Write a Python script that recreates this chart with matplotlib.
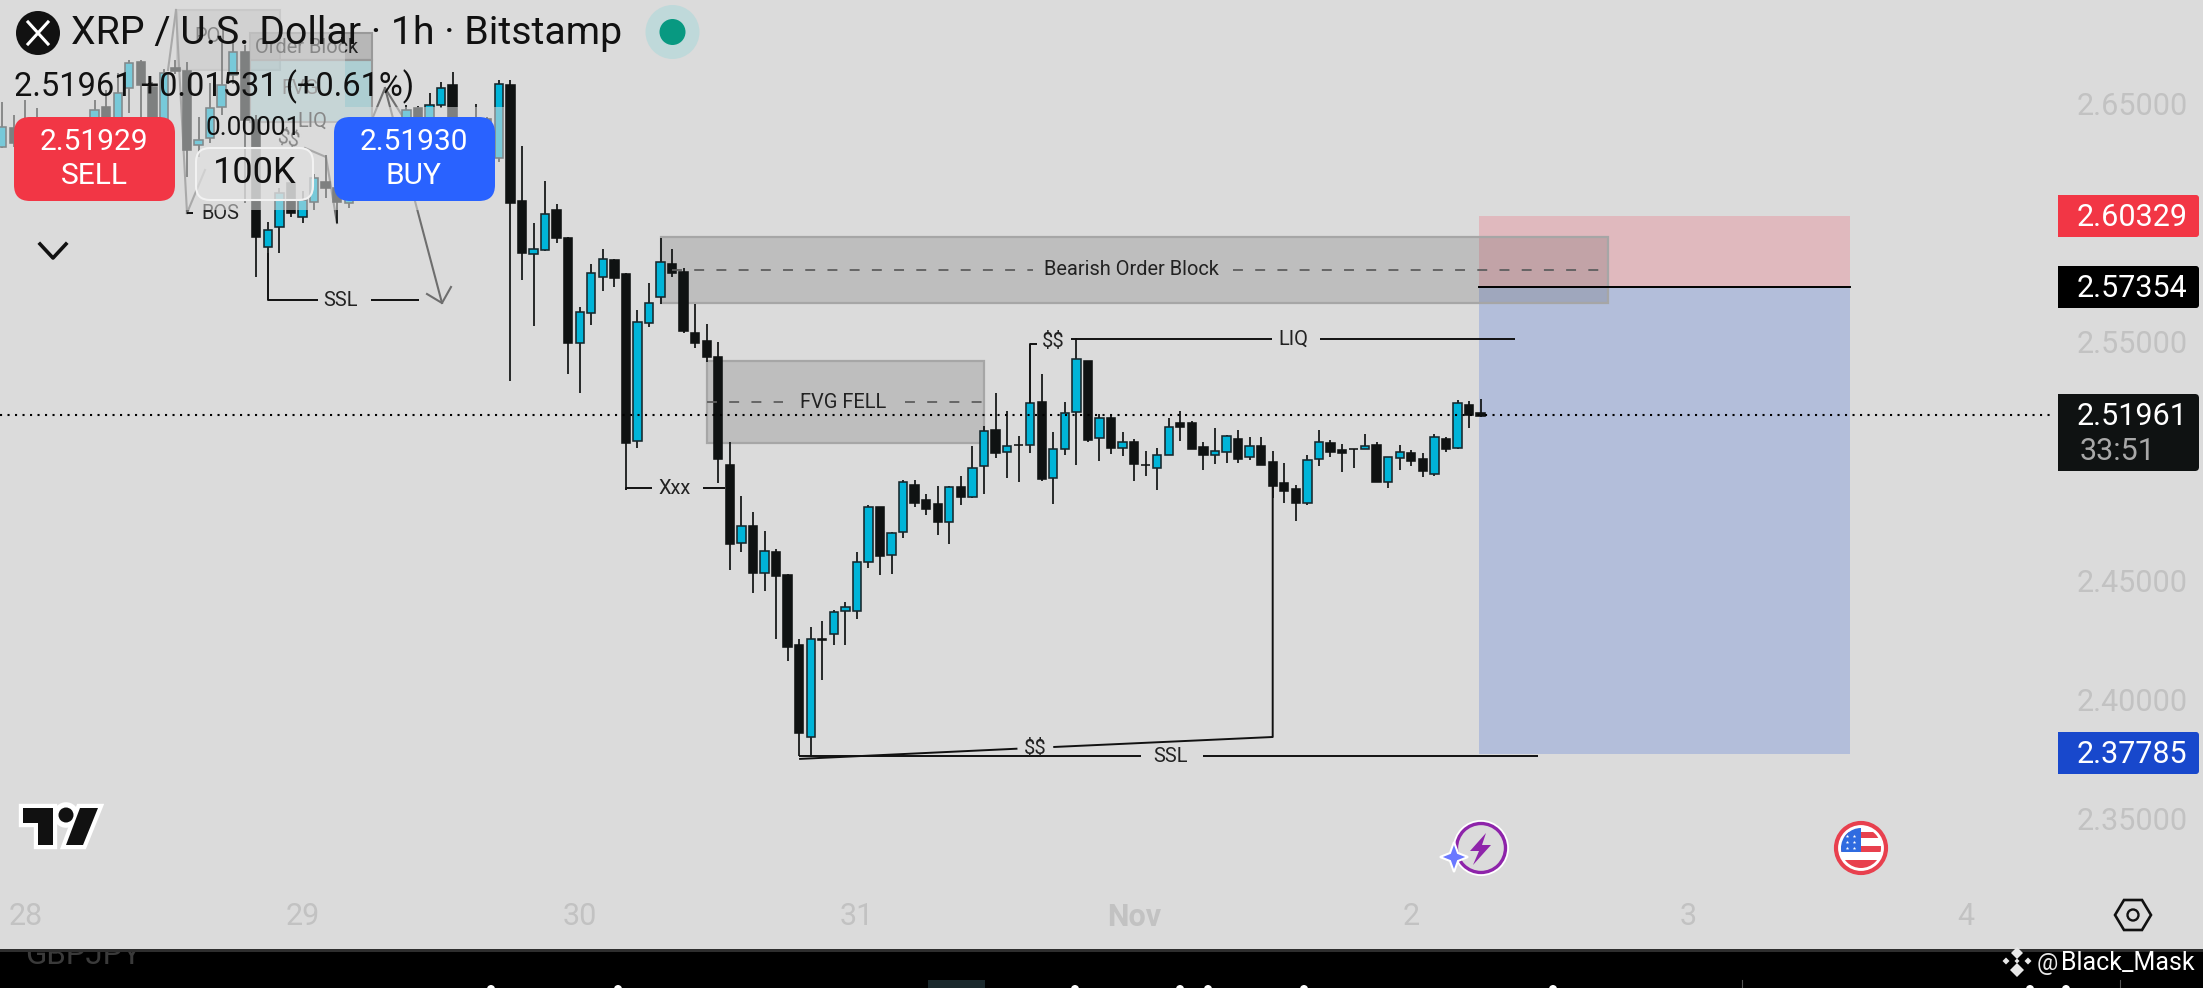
#!/usr/bin/env python3
# XRP / USD 1h chart screenshot rebuilt with matplotlib
import numpy as np
import matplotlib
matplotlib.use("Agg")
import matplotlib.pyplot as plt
from matplotlib.patches import Rectangle, FancyBboxPatch, Circle, Polygon

plt.rcParams["font.family"] = ["Roboto", "DejaVu Sans"]
plt.rcParams["text.parse_math"] = False

W, H = 2203, 988
BG = "#DBDBDB"
CYAN = "#00B4D8"
DARK = "#0F1212"
AXIS_GREY = "#C2C2C2"

# candles, one per hour, first one is 22:00 the day before the 28th
first_hour = -2
opens = [
    2.6325, 2.6402, 2.6340, 2.6410, 2.6380, 2.6350, 2.6400, 2.6370, 2.6400, 2.6490,
    2.6420, 2.6570, 2.6682, 2.6577, 2.6430, 2.6654, 2.6643, 2.6332, 2.6360, 2.6493,
    2.6626, 2.6724, 2.6437, 2.5906, 2.5990, 2.6171, 2.6032, 2.6095, 2.6178, 2.6150,
    2.6088, 2.6110, 2.6200, 2.6280, 2.6380, 2.6420, 2.6486, 2.6440, 2.6500, 2.6584,
    2.6445, 2.6420, 2.6440, 2.6279, 2.6584, 2.6097, 2.5874, 2.5892, 2.6060, 2.5944,
    2.5500, 2.5626, 2.5780, 2.5850, 2.5791, 2.5091, 2.5584, 2.5696, 2.5833, 2.5800,
    2.5545, 2.5510, 2.5444, 2.4990, 2.4664, 2.4734, 2.4536, 2.4625, 2.4529, 2.4235,
    2.3848, 2.4261, 2.4280, 2.4376, 2.4376, 2.4584, 2.4812, 2.4611, 2.4708, 2.4906,
    2.4843, 2.4826, 2.4749, 2.4896, 2.4857, 2.4984, 2.5137, 2.5043, 2.5074, 2.5074,
    2.5253, 2.4934, 2.5056, 2.5211, 2.5426, 2.5102, 2.5187, 2.5060, 2.5086, 2.4990,
    2.4979, 2.5033, 2.5165, 2.5165, 2.5066, 2.5031, 2.5046, 2.5099, 2.5025, 2.5070,
    2.5003, 2.4913, 2.4889, 2.4832, 2.5014, 2.5081, 2.5053, 2.5056, 2.5056, 2.5073,
    2.4917, 2.5018, 2.5042, 2.5014, 2.4954, 2.5099, 2.5060, 2.5242, 2.5209,
]
highs = [
    2.6514, 2.6458, 2.6521, 2.6486, 2.6451, 2.6430, 2.6440, 2.6445, 2.6521, 2.6563,
    2.6633, 2.6689, 2.6689, 2.6598, 2.6650, 2.6690, 2.6680, 2.6451, 2.6591, 2.6773,
    2.6773, 2.6750, 2.6460, 2.6010, 2.6150, 2.6200, 2.6140, 2.6210, 2.6290, 2.6170,
    2.6150, 2.6230, 2.6300, 2.6420, 2.6450, 2.6500, 2.6495, 2.6549, 2.6598, 2.6640,
    2.6450, 2.6504, 2.6450, 2.6605, 2.6605, 2.6328, 2.6004, 2.6181, 2.6083, 2.5946,
    2.5653, 2.5833, 2.5896, 2.5854, 2.5795, 2.5640, 2.5752, 2.5943, 2.5896, 2.5815,
    2.5665, 2.5581, 2.5506, 2.5088, 2.4860, 2.4793, 2.4713, 2.4636, 2.4533, 2.4260,
    2.4309, 2.4336, 2.4380, 2.4415, 2.4625, 2.4822, 2.4814, 2.4710, 2.4927, 2.4927,
    2.4868, 2.4902, 2.4902, 2.4944, 2.5070, 2.5153, 2.5291, 2.5216, 2.5112, 2.5256,
    2.5372, 2.5128, 2.5254, 2.5521, 2.5426, 2.5203, 2.5203, 2.5128, 2.5098, 2.5049,
    2.5061, 2.5187, 2.5216, 2.5175, 2.5086, 2.5145, 2.5117, 2.5137, 2.5107, 2.5107,
    2.5049, 2.4997, 2.4906, 2.5032, 2.5137, 2.5093, 2.5078, 2.5056, 2.5120, 2.5085,
    2.5025, 2.5073, 2.5052, 2.5039, 2.5120, 2.5106, 2.5263, 2.5258, 2.5267,
]
lows = [
    2.6319, 2.6325, 2.6300, 2.6340, 2.6320, 2.6320, 2.6340, 2.6350, 2.6380, 2.6370,
    2.6380, 2.6465, 2.6451, 2.6400, 2.6400, 2.6630, 2.6200, 2.6280, 2.6340, 2.6460,
    2.6590, 2.6088, 2.5780, 2.5878, 2.5878, 2.6032, 2.6004, 2.6060, 2.6110, 2.6004,
    2.6070, 2.6105, 2.6190, 2.6270, 2.6380, 2.6400, 2.6410, 2.6410, 2.6486, 2.6420,
    2.6400, 2.6400, 2.6400, 2.6259, 2.5344, 2.5766, 2.5574, 2.5888, 2.5923, 2.5372,
    2.5293, 2.5577, 2.5721, 2.5738, 2.4885, 2.5063, 2.5570, 2.5665, 2.5780, 2.5545,
    2.5482, 2.5423, 2.4913, 2.4550, 2.4626, 2.4454, 2.4463, 2.4261, 2.4169, 2.3769,
    2.3767, 2.4088, 2.4235, 2.4235, 2.4345, 2.4559, 2.4530, 2.4534, 2.4685, 2.4815,
    2.4782, 2.4698, 2.4659, 2.4822, 2.4853, 2.4868, 2.5021, 2.4937, 2.4920, 2.5042,
    2.4924, 2.4825, 2.5033, 2.4990, 2.5086, 2.5008, 2.5036, 2.5028, 2.4923, 2.4944,
    2.4885, 2.5030, 2.5092, 2.5058, 2.4969, 2.4994, 2.4999, 2.4999, 2.5012, 2.4989,
    2.4850, 2.4832, 2.4755, 2.4821, 2.4987, 2.5025, 2.4962, 2.4976, 2.5055, 2.4920,
    2.4895, 2.4969, 2.4987, 2.4941, 2.4945, 2.5046, 2.5058, 2.5147, 2.5190,
]
closes = [
    2.6409, 2.6339, 2.6410, 2.6380, 2.6360, 2.6400, 2.6370, 2.6430, 2.6479, 2.6400,
    2.6549, 2.6675, 2.6584, 2.6420, 2.6633, 2.6643, 2.6311, 2.6353, 2.6486, 2.6584,
    2.6724, 2.6437, 2.5948, 2.5976, 2.6130, 2.6046, 2.6102, 2.6192, 2.6150, 2.6095,
    2.6116, 2.6200, 2.6280, 2.6380, 2.6440, 2.6479, 2.6430, 2.6500, 2.6570, 2.6440,
    2.6420, 2.6440, 2.6420, 2.6588, 2.6088, 2.5878, 2.5895, 2.6041, 2.5944, 2.5503,
    2.5630, 2.5794, 2.5853, 2.5776, 2.5084, 2.5591, 2.5671, 2.5840, 2.5797, 2.5552,
    2.5503, 2.5444, 2.5014, 2.4659, 2.4736, 2.4538, 2.4628, 2.4526, 2.4228, 2.3867,
    2.4261, 2.4257, 2.4375, 2.4393, 2.4584, 2.4812, 2.4610, 2.4706, 2.4917, 2.4832,
    2.4807, 2.4752, 2.4896, 2.4857, 2.4979, 2.5134, 2.5039, 2.5071, 2.5072, 2.5251,
    2.4933, 2.5056, 2.5209, 2.5433, 2.5095, 2.5189, 2.5063, 2.5085, 2.4994, 2.4988,
    2.5033, 2.5151, 2.5151, 2.5059, 2.5032, 2.5050, 2.5113, 2.5015, 2.5068, 2.4990,
    2.4903, 2.4881, 2.4832, 2.5010, 2.5085, 2.5046, 2.5039, 2.5055, 2.5071, 2.4920,
    2.5022, 2.5043, 2.5008, 2.4966, 2.5109, 2.5057, 2.5249, 2.5200, 2.5196,
]

price_ticks = [2.65, 2.55, 2.45, 2.40, 2.35]
day_ticks = [0, 24, 48, 72, 96, 120, 144, 168]
day_labels = ["28", "29", "30", "31", "Nov", "2", "3", "4"]

last_price = 2.51961
pos_top, pos_entry, pos_bottom = 2.60329, 2.57354, 2.37785
pos_start, pos_end = 125.9, 158

# picture scale: 11.55 px per hour, 2384 px per 1.0 of price
xlim = ((0 - 25.3) / 11.55, (W - 25.3) / 11.55)
ylim = (2.65 - (H - 105) / 2384, 2.65 + 105 / 2384)


def px2h(x):
    return (x - 25.3) / 11.55


def py2p(y):
    return 2.65 - (y - 105) / 2384


fig = plt.figure(figsize=(W / 100, H / 100), dpi=100, facecolor=BG)
ax = fig.add_axes([0, 0, 1, 1], zorder=1)
ax.set_xlim(*xlim)
ax.set_ylim(*ylim)
ax.axis("off")

# position tool
ax.add_patch(Rectangle((pos_start, pos_entry), pos_end - pos_start, pos_top - pos_entry,
                       fc="#E0B9BE", ec="none", zorder=1))
ax.add_patch(Rectangle((pos_start, pos_bottom), pos_end - pos_start, pos_entry - pos_bottom,
                       fc="#B3BEDA", ec="none", zorder=1))
ax.plot([pos_start, pos_end], [pos_entry, pos_entry], color="black", lw=1.4, zorder=6)

# zones
box_fc = (0.35, 0.35, 0.35, 0.22)
ax.add_patch(Rectangle((55, 2.5669), 82, 0.0277, fc=box_fc, ec="#A6A6A6", lw=1.6, zorder=2))
ax.add_patch(Rectangle((59, 2.5082), 24, 0.0344, fc=box_fc, ec="#A6A6A6", lw=1.6, zorder=2))

# old drawings in the top left, they end up under the fade
ax.add_patch(Rectangle((px2h(177), py2p(70)), 103 / 11.55, 60 / 2384,
                       fc=(0.4, 0.4, 0.4, 0.18), ec="#B4B4B4", lw=1.5, zorder=2))
ax.add_patch(Rectangle((px2h(250), py2p(60)), 122 / 11.55, 27 / 2384,
                       fc=(0.4, 0.4, 0.4, 0.30), ec="#999999", lw=1.5, zorder=2))
ax.add_patch(Rectangle((px2h(250), py2p(122)), 122 / 11.55, 62 / 2384,
                       fc=(0.30, 0.70, 0.75, 0.32), ec="#999999", lw=1.5, zorder=2))
ax.text(px2h(307), py2p(47), "Order Block", fontsize=14.4, ha="center", va="center",
        color="#222222", zorder=7)
ax.text(px2h(210), py2p(37), "POI", fontsize=14.4, ha="center", va="center",
        color="#222222", zorder=7)
ax.text(px2h(312), py2p(121), "LIQ", fontsize=14.4, ha="center", va="center",
        color="#222222", zorder=7)
ax.text(px2h(289), py2p(140), "$$", fontsize=14.4, ha="center", va="center",
        color="#222222", zorder=7, rotation=-15)
ax.text(px2h(300), py2p(88), "FVG", fontsize=14.4, ha="center", va="center",
        color="#555555", zorder=7)

old_lines = [
    ((176, 187), (10, 213)),
    ((187, 205), (213, 170)),
    ((176, 168), (10, 70)),
    ((305, 326, 337), (148, 157, 223)),
    ((373, 385, 403), (117, 88, 117)),
    ((385, 442), (88, 303)),
    ((427, 442, 451), (294, 303, 287)),
]
for xs, ys in old_lines:
    ax.plot([px2h(v) for v in xs], [py2p(v) for v in ys], color="#6E6E6E", lw=1.5, zorder=3)

# candles
hours = first_hour + np.arange(len(opens))
o, hi, lo, c = map(np.array, (opens, highs, lows, closes))
up = c >= o
ax.vlines(hours, lo, hi, color=DARK, lw=1.25, zorder=4)
ax.bar(hours[up], (c - o)[up], bottom=o[up], width=0.72, color=CYAN, edgecolor="#17272C",
       linewidth=1.15, zorder=5)
ax.bar(hours[~up], (o - c)[~up], bottom=c[~up], width=0.72, color=DARK, edgecolor=DARK,
       linewidth=1.15, zorder=5)

# dashed mid lines of the zones
dash = dict(color="#5E5E5E", lw=1.3, ls=(0, (5.5, 6.8)), zorder=6)
ax.plot([56, px2h(1033)], [2.5808, 2.5808], **dash)
ax.plot([px2h(1233), 137], [2.5808, 2.5808], **dash)
ax.plot([59, px2h(783)], [2.5254, 2.5254], **dash)
ax.plot([px2h(905), 83], [2.5254, 2.5254], **dash)

# marker lines and their labels
line = dict(color="#111111", lw=1.4, zorder=6, solid_capstyle="butt")
ax.plot([21, 21, 25.3], [2.5878, 2.5682, 2.5682], **line)
ax.plot([29.9, 34.1], [2.5682, 2.5682], **line)
ax.plot([14, 14.5], [py2p(213), py2p(213)], **line)
ax.plot([52, 52, 54.3], [2.4885, 2.4893, 2.4893], **line)
ax.plot([58.7, 60.6], [2.4893, 2.4893], **line)
ax.plot([67, 96.6], [2.3769, 2.3769], **line)
ax.plot([102, 131], [2.3769, 2.3769], **line)
ax.plot([67, 85.9], [2.3757, 2.3800], **line)
ax.plot([89, 108, 108], [2.3807, 2.3849, 2.4903], **line)
ax.plot([87, 87, 87.6], [2.5251, 2.5497, 2.5497], **line)
ax.plot([90.5, 107.9], [2.5518, 2.5518], **line)
ax.plot([112.1, 129], [2.5518, 2.5518], **line)

labels = [
    (px2h(1131), 2.5808, "Bearish Order Block"),
    (70.8, 2.5254, "FVG FELL"),
    (px2h(675), 2.4893, "Xxx"),
    (px2h(1035), py2p(748), "$$"),
    (px2h(1170), 2.3769, "SSL"),
    (px2h(1053), py2p(341), "$$"),
    (px2h(1293), 2.5518, "LIQ"),
    (px2h(340), 2.5682, "SSL"),
    (px2h(220), py2p(213), "BOS"),
]
for x, y, s in labels:
    ax.text(x, y, s, fontsize=14.4, ha="center", va="center", color="#222222", zorder=7)

# last price line, the tag sits a hair above its nominal row on the screen
ax.plot([xlim[0], px2h(2053)], [py2p(414.5), py2p(414.5)], color="black", lw=1.5,
        ls=(0, (1, 2.6)), zorder=6)

# axis labels
for p in price_ticks:
    ax.text(px2h(2132), py2p(105 + (2.65 - p) * 2384 + 1.5), f"{p:.5f}", fontsize=22, ha="center",
            va="center", color=AXIS_GREY)
for hour, s in zip(day_ticks, day_labels):
    ax.text(hour, py2p(916.5), s, fontsize=22, ha="center", va="center", color=AXIS_GREY,
            fontweight="bold" if s == "Nov" else "normal")

# everything that sits on top of the chart, in screen pixels
ui = fig.add_axes([0, 0, 1, 1], zorder=2)
ui.set_xlim(0, W)
ui.set_ylim(H, 0)
ui.axis("off")
ui.patch.set_alpha(0)

ui.add_patch(Rectangle((0, 0), 345, 107, fc=BG, ec="none", alpha=0.55, zorder=1))
ui.add_patch(Rectangle((0, 107), 505, 103, fc=BG, ec="none", alpha=0.55, zorder=1))


def round_box(x0, y0, x1, y1, r, **kw):
    ui.add_patch(FancyBboxPatch((x0 + r, y0 + r), x1 - x0 - 2 * r, y1 - y0 - 2 * r,
                                boxstyle=f"round,pad={r},rounding_size={r}", **kw))


# price tags on the right, hiding the ticks behind them
round_box(2058, 195, 2199, 237, 3, fc="#F23645", ec="none", zorder=3)
ui.add_patch(Rectangle((2058, 195), 10, 42, fc="#F23645", ec="none", zorder=3))
round_box(2058, 266, 2199, 308, 3, fc="black", ec="none", zorder=3)
ui.add_patch(Rectangle((2058, 266), 10, 42, fc="black", ec="none", zorder=3))
round_box(2058, 394, 2199, 471, 4, fc="#0F1212", ec="none", zorder=3)
ui.add_patch(Rectangle((2058, 394), 10, 77, fc="#0F1212", ec="none", zorder=3))
round_box(2058, 732, 2199, 774, 3, fc="#1848CC", ec="none", zorder=3)
ui.add_patch(Rectangle((2058, 732), 10, 42, fc="#1848CC", ec="none", zorder=3))
tag_text = dict(fontsize=22, ha="center", va="center", color="white", zorder=4)
ui.text(2132, 217.5, f"{pos_top:.5f}", **tag_text)
ui.text(2132, 288.5, f"{pos_entry:.5f}", **tag_text)
ui.text(2132, 416, f"{last_price:.5f}", **tag_text)
ui.text(2132, 754.5, f"{pos_bottom:.5f}", **tag_text)
ui.text(2080, 451, "33:51", fontsize=22, ha="left", va="center", color="#A8A8A8", zorder=4)

# header
ui.add_patch(Circle((38, 33), 22, fc="#111111", ec="none", zorder=5))
ui.plot([28, 48], [22, 44], color="white", lw=2.2, zorder=6)
ui.plot([48, 28], [22, 44], color="white", lw=2.2, zorder=6)
ui.text(71, 34, "XRP / U.S. Dollar · 1h · Bitstamp", fontsize=28.3, ha="left", va="center",
        color="#111111", zorder=6)
ui.add_patch(Circle((672.5, 32), 27, fc="#BFD9DA", ec="none", zorder=5))
ui.add_patch(Circle((672.5, 32), 13, fc="#089981", ec="none", zorder=6))
ui.text(14, 87, "2.51961 +0.01531 (+0.61%)", fontsize=23.5, ha="left", va="center",
        color="#111111", zorder=6)

# trade buttons
round_box(14, 117, 175, 201, 16, fc="#F23645", ec="none", zorder=5)
round_box(334, 117, 495, 201, 16, fc="#2962FF", ec="none", zorder=5)
button = dict(fontsize=21.5, ha="center", va="center", color="white", zorder=6)
ui.text(94, 141.5, "2.51929", **button)
ui.text(94, 176.5, "SELL", **button)
ui.text(414, 141.5, "2.51930", **button)
ui.text(414, 176.5, "BUY", **button)
ui.text(253, 128, "0.00001", fontsize=18.8, ha="center", va="center", color="#111111", zorder=6)
round_box(196, 148, 313, 200, 14, fc=(0.88, 0.88, 0.88, 0.7), ec="#F2F2F2", lw=1.5, zorder=5)
ui.text(255, 173, "100K", fontsize=26, ha="center", va="center", color="#111111", zorder=6)
ui.plot([40, 53, 66], [244, 258, 244], color="#111111", lw=2.6, zorder=6)

# tradingview logo
logo_t = [(23, 808), (53, 808), (53, 845), (38, 845), (38, 823), (23, 823)]
logo_s = [(80, 808), (98, 808), (83, 845), (66, 845)]
for pts in (logo_t, logo_s):
    ui.add_patch(Polygon(pts, closed=True, fc="white", ec="white", lw=6, joinstyle="miter", zorder=5))
ui.add_patch(Circle((66, 815), 10, fc="white", ec="white", lw=4, zorder=5))
for pts in (logo_t, logo_s):
    ui.add_patch(Polygon(pts, closed=True, fc="#111111", ec="none", zorder=6))
ui.add_patch(Circle((66, 815), 7.5, fc="#111111", ec="none", zorder=6))

# event icons
ui.add_patch(Circle((1481, 848), 28, fc="white", ec="none", zorder=5))
ui.add_patch(Circle((1481, 848), 24.5, fc=BG, ec="#8E24AA", lw=2.4, zorder=6))
ui.add_patch(Polygon([(1486, 833), (1470, 851), (1479, 851), (1473, 865), (1491, 845), (1482, 845)],
                     closed=True, fc="#8E24AA", ec="none", zorder=7))
ui.add_patch(Polygon([(1454, 842), (1458, 853), (1468, 857), (1458, 861), (1454, 872),
                      (1450, 861), (1440, 857), (1450, 853)], closed=True, fc="#6A78FF",
                     ec="white", lw=1.5, zorder=7))
ui.add_patch(Circle((1861, 848), 25, fc="white", ec="#E8404E", lw=3, zorder=5))
flag_clip = Circle((1861, 848), 20, transform=ui.transData)
for y0, y1 in ((832, 838), (846, 852), (860, 868)):
    r = Rectangle((1840, y0), 42, y1 - y0, fc="#E8404E", ec="none", zorder=6)
    ui.add_patch(r)
    r.set_clip_path(flag_clip)
r = Rectangle((1840, 828), 21, 24, fc="#2F6BE0", ec="none", zorder=7)
ui.add_patch(r)
r.set_clip_path(flag_clip)
ui.scatter([1847, 1854, 1847, 1854, 1847, 1854], [836, 836, 842, 842, 848, 848], s=7, c="white",
           marker="*", linewidths=0, zorder=8)

# settings hexagon
ui.add_patch(Polygon([(2115, 915), (2124, 900), (2142, 900), (2151, 915), (2142, 930), (2124, 930)],
                     closed=True, fc="none", ec="#111111", lw=1.9, zorder=5))
ui.add_patch(Circle((2133, 915), 5.5, fc="none", ec="#111111", lw=1.7, zorder=5))

# black phone bar at the bottom
ui.add_patch(Rectangle((0, 949), W, H - 949, fc="black", ec="none", zorder=8))
ui.add_patch(Rectangle((0, 949), W, 2.5, fc="#2E2E2E", ec="none", zorder=9))
t = ui.text(25, 955, "GBPJPY", fontsize=22.5, ha="left", va="center", color="#3A3A3A", zorder=9)
t.set_clip_on(True)
t.set_clip_path(Rectangle((0, 951.5), W, 37, transform=ui.transData))
ui.text(2037, 963, "@", fontsize=17, ha="left", va="center", color="#E8E8E8", zorder=9)
ui.text(2061, 963, "Black_Mask", fontsize=18, ha="left", va="center", color="white", zorder=9)
for cx, cy, r in ((2017, 953, 6), (2006, 961, 3.5), (2028, 961, 3.5), (2017, 970, 7), (2017, 961, 2.5)):
    ui.add_patch(Polygon([(cx - r, cy), (cx, cy - r), (cx + r, cy), (cx, cy + r)], closed=True,
                         fc="#E8E8E8", ec="none", zorder=9))
ui.add_patch(Rectangle((928, 980), 57, 8, fc="#1A282C", ec="none", zorder=9))
for x in (491, 618, 1075, 1180, 1208, 1304, 1553, 2030, 2066):
    ui.add_patch(Circle((x, 989), 4, fc="white", ec="none", zorder=9))
ui.plot([1742, 1742], [980, 988], color="#555555", lw=0.8, zorder=9)
ui.plot([2120, 2120], [980, 988], color="#555555", lw=0.8, zorder=9)

fig.savefig("out.png", dpi=100, facecolor=BG)
plt.close(fig)
